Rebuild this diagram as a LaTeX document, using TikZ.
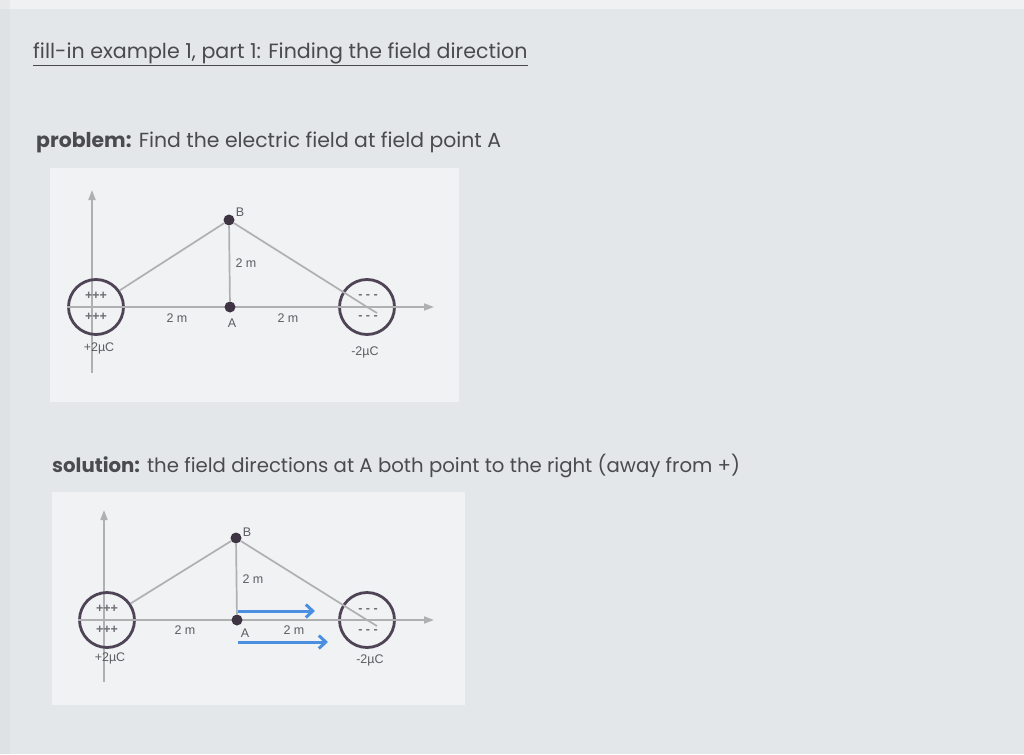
\documentclass[tikz,border=0pt]{standalone}
\usepackage{fontspec}
\setmainfont{Poppins}
\newfontfamily\arialf{Liberation Sans}
\usetikzlibrary{arrows.meta}
\definecolor{bgc}{HTML}{E3E7EA}
\definecolor{topc}{HTML}{EFF1F2}
\definecolor{panelc}{HTML}{F1F2F3}
\definecolor{axisc}{HTML}{B0B0B3}
\definecolor{ringc}{HTML}{4E4456}
\definecolor{dotc}{HTML}{3E3444}
\definecolor{txtc}{HTML}{4A4A50}
\definecolor{bluec}{HTML}{4A8FE0}
\tikzset{
  x=1pt, y=1pt,
  axis/.style={draw=axisc, line width=1.7pt, -{Triangle[length=10pt,width=7pt]}},
  guide/.style={draw=axisc, line width=1.7pt},
  ring/.style={circle, draw=ringc, line width=2.8pt, minimum size=55pt, inner sep=0pt},
  pt/.style={circle, fill=dotc, minimum size=11pt, inner sep=0pt},
  lbl/.style={font=\arialf\fontsize{12.5}{14}\selectfont, text=txtc!90, inner sep=0pt},
  sgn/.style={font=\arialf\bfseries\fontsize{12.5}{13}\selectfont, text=txtc!80, inner sep=0pt},
  para/.style={text=txtc, anchor=west, inner sep=0pt},
  fieldarrow/.style={draw=bluec, line width=3pt, -{Straight Barb[length=7pt,width=13pt]}},
}
\begin{document}
\begin{tikzpicture}
\useasboundingbox (0,0) rectangle (1024,-754);
\fill[bgc] (0,0) rectangle (1024,-754);
\fill[topc] (0,0) rectangle (1024,-9);
\fill[bgc!92!black, opacity=0.25] (0,0) rectangle (10,-754);

% texts
\node[para, font=\fontsize{20.6}{24}\selectfont] (title) at (33,-54) {\underline{fill-in example 1, part 1: Finding the field direction}};
\node[para, font=\fontsize{20.4}{24}\selectfont] (prob) at (36,-142) {\textbf{problem:} Find the electric field at field point A};
\node[para, font=\fontsize{19.7}{24}\selectfont] (sol) at (52,-466) {\textbf{solution:} the field directions at A both point to the right (away from +)};

% ===== panel 1 =====
\fill[panelc] (50,-168) rectangle (459,-402);
\coordinate (v1s) at (92,-373);
\coordinate (v1e) at (92,-190);
\draw[axis] (v1s) -- (v1e);
\node[ring] (qp1) at (96,-307) {};
\node[ring] (qn1) at (367,-307) {};
\coordinate (h1e) at (434,-307);
\draw[axis] (qp1.west) -- (h1e);
\node[pt] (A1) at (230,-307) {};
\node[pt] (B1) at (229,-220) {};
\draw[guide] (B1) -- (A1);
\draw[guide] (B1) -- (qp1.35);
\draw[guide] (B1) -- (qn1.center) -- ++(10,-6);
\node[sgn] at (96,-296) {+++};
\node[sgn] at (96,-317) {+++};
\node[sgn] at (368,-297) {- - -};
\node[sgn] at (368,-318) {- - -};
\node[lbl] (B1l) at (240,-212) {B};
\node[lbl] (A1l) at (232,-323) {A};
\node[lbl] at (246,-263) {2 m};
\node[lbl] at (177,-318) {2 m};
\node[lbl] at (288,-318) {2 m};
\node[lbl] at (99,-348) {+2µC};
\node[lbl] at (365,-352) {-2µC};

% ===== panel 2 =====
\fill[panelc] (52,-492) rectangle (465,-705);
\coordinate (v2s) at (104,-682);
\coordinate (v2e) at (104,-510);
\draw[axis] (v2s) -- (v2e);
\node[ring] (qp2) at (107,-620) {};
\node[ring] (qn2) at (367,-620) {};
\coordinate (h2e) at (434,-620);
\draw[axis] (qp2.west) -- (h2e);
\node[pt] (A2) at (237,-620) {};
\node[pt] (B2) at (236,-538) {};
\draw[guide] (B2) -- (A2);
\draw[guide] (B2) -- (qp2.35);
\draw[guide] (B2) -- (qn2.center) -- ++(10,-6);
\node[sgn] at (107,-609) {+++};
\node[sgn] at (107,-630) {+++};
\node[sgn] at (368,-610) {- - -};
\node[sgn] at (368,-631) {- - -};
\node[lbl] (B2l) at (247,-532) {B};
\node[lbl] (A2l) at (245,-633) {A};
\node[lbl] at (253,-579) {2 m};
\node[lbl] at (185,-630) {2 m};
\node[lbl] at (294,-630) {2 m};
\node[lbl] at (110,-658) {+2µC};
\node[lbl] at (370,-660) {-2µC};
\coordinate (f1s) at (238,-611);
\coordinate (f1e) at (315,-611);
\coordinate (f2s) at (238,-642);
\coordinate (f2e) at (328,-642);
\draw[fieldarrow] (f1s) -- (f1e);
\draw[fieldarrow] (f2s) -- (f2e);
\end{tikzpicture}
\end{document}
